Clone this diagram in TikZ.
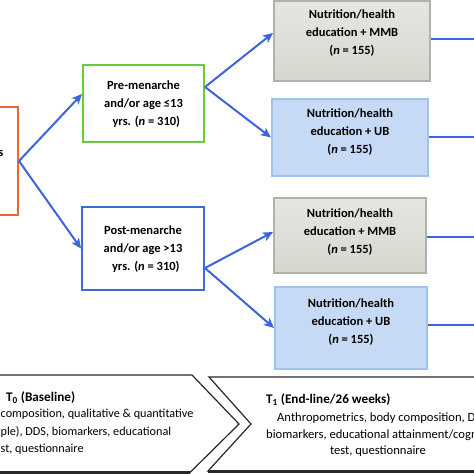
\documentclass[tikz,border=0pt]{standalone}
\usepackage{fontspec}
\setmainfont{Carlito}
\usetikzlibrary{arrows.meta}
\definecolor{orangec}{RGB}{240,100,58}
\definecolor{greenc}{RGB}{102,206,52}
\definecolor{bluec}{RGB}{58,110,214}
\definecolor{arrowc}{RGB}{60,100,220}
\definecolor{grayfill}{RGB}{214,215,207}
\definecolor{graytop}{RGB}{229,230,224}
\definecolor{graydraw}{RGB}{176,177,170}
\definecolor{ubfill}{RGB}{198,218,245}
\definecolor{ubdraw}{RGB}{157,195,238}
\definecolor{chevc}{RGB}{40,40,40}
\newcommand{\boxlines}[2]{\begin{tabular}{@{}c@{}}#1\\[#2]\end{tabular}}
\tikzset{
  boxtxt/.style={font=\fontsize{12.5}{18}\selectfont\bfseries, align=center, inner sep=0pt},
  orangebox/.style={draw=orangec, line width=2pt, fill=white},
  greenbox/.style={boxtxt, draw=greenc, line width=2pt, fill=white},
  postbox/.style={boxtxt, draw=bluec, line width=2pt, fill=white},
  mmbbox/.style={boxtxt, draw=graydraw, line width=2pt, top color=graytop, bottom color=grayfill},
  ubbox/.style={boxtxt, draw=ubdraw, line width=2pt, fill=ubfill},
  arr/.style={draw=arrowc, line width=2pt, -{Stealth[length=10pt,width=9pt,inset=2.5pt]}},
  feed/.style={draw=arrowc, line width=2pt},
  chev/.style={draw=chevc, line width=1.2pt, fill=white},
  chevbase/.style={draw=chevc, line width=2.8pt},
  ttl/.style={font=\fontsize{13.2}{15}\selectfont\bfseries, inner sep=0pt},
  body/.style={font=\fontsize{12.6}{15}\selectfont, inner sep=0pt},
  bodyl/.style={font=\fontsize{12.2}{15}\selectfont, inner sep=0pt, anchor=west},
}
\begin{document}
\begin{tikzpicture}[x=1pt,y=-1pt]
\useasboundingbox (0,0) rectangle (474,474);
% left (orange) box
\node[orangebox, minimum width=90pt, minimum height=108pt, anchor=east] (orange) at (19,161) {};
\node[boxtxt, anchor=east] (otxt) at (3.5,153) {s};
% middle boxes
\node[greenbox, minimum width=121pt, minimum height=77pt] (pre) at (143.5,103.5)
  {\boxlines{Pre-menarche\\and/or age ≤13\\\ \ yrs. (\textit{n} = 310)}{0pt}};
\node[postbox, minimum width=122pt, minimum height=83pt] (post) at (143,248.5)
  {\boxlines{Post-menarche\\and/or age >13\\\ \ yrs. (\textit{n} = 310)}{0pt}};
% right boxes
\node[mmbbox, minimum width=156pt, minimum height=80pt] (m1) at (352,41)
  {\boxlines{Nutrition/health\\education + MMB\\(\textit{n} = 155)}{16pt}};
\node[ubbox, minimum width=156pt, minimum height=77pt] (u1) at (350,137.5)
  {\boxlines{Nutrition/health\\education + UB\\(\textit{n} = 155)}{11pt}};
\node[mmbbox, minimum width=152pt, minimum height=75pt] (m2) at (350,235.5)
  {\boxlines{Nutrition/health\\education + MMB\\(\textit{n} = 155)}{8pt}};
\node[ubbox, minimum width=152pt, minimum height=82pt] (u2) at (351,328)
  {\boxlines{Nutrition/health\\education + UB\\(\textit{n} = 155)}{12pt}};
% connectors
\draw[arr] (orange.east) -- ([yshift=9.5pt]pre.west);
\draw[arr] (orange.east) -- (post.west);
\draw[arr] ([yshift=16.5pt]pre.east) -- ([yshift=8pt]m1.west);
\draw[arr] ([yshift=16.5pt]pre.east) -- (u1.west);
\draw[arr] ([yshift=-19.5pt]post.east) -- ([yshift=3.5pt]m2.west);
\draw[arr] ([yshift=-19.5pt]post.east) -- (u2.west);
\coordinate (e1) at (480,39);
\coordinate (e2) at (480,137);
\coordinate (e3) at (480,237);
\coordinate (e4) at (480,325);
\draw[feed] (m1.east |- e1) -- (e1);
\draw[feed] (u1.east |- e2) -- (e2);
\draw[feed] (m2.east |- e3) -- (e3);
\draw[feed] (u2.east |- e4) -- (e4);
% timeline chevrons
\draw[chev] (-5,375) -- (192,375) -- (239,424) -- (190,472.5) -- (-5,472.5);
\draw[chevbase] (-5,472.5) -- (190,472.5);
\draw[chev] (480,377) -- (209,377) -- (251,424) -- (208,471) -- (480,471);
\draw[chevbase] (208,471.5) -- (480,471.5);
% T0 texts
\node[ttl, anchor=west] (t0) at (6,398) {T\textsubscript{0} (Baseline)};
\node[bodyl] (t0a) at (0.5,414) {composition, qualitative \& quantitative};
\node[bodyl] (t0b) at (0.5,432) {ple), DDS, biomarkers, educational};
\node[bodyl] (t0c) at (0.5,449) {st, questionnaire};
% T1 texts
\node[ttl, anchor=west] (t1) at (266,400) {T\textsubscript{1} (End-line/26 weeks)};
\node[body, anchor=west] (t1a) at (277,418) {Anthropometrics, body composition, DD};
\node[body, anchor=west] (t1b) at (266,435) {biomarkers, educational attainment/cogn};
\node[body] (t1c) at (378,451) {test, questionnaire};
\end{tikzpicture}
\end{document}
